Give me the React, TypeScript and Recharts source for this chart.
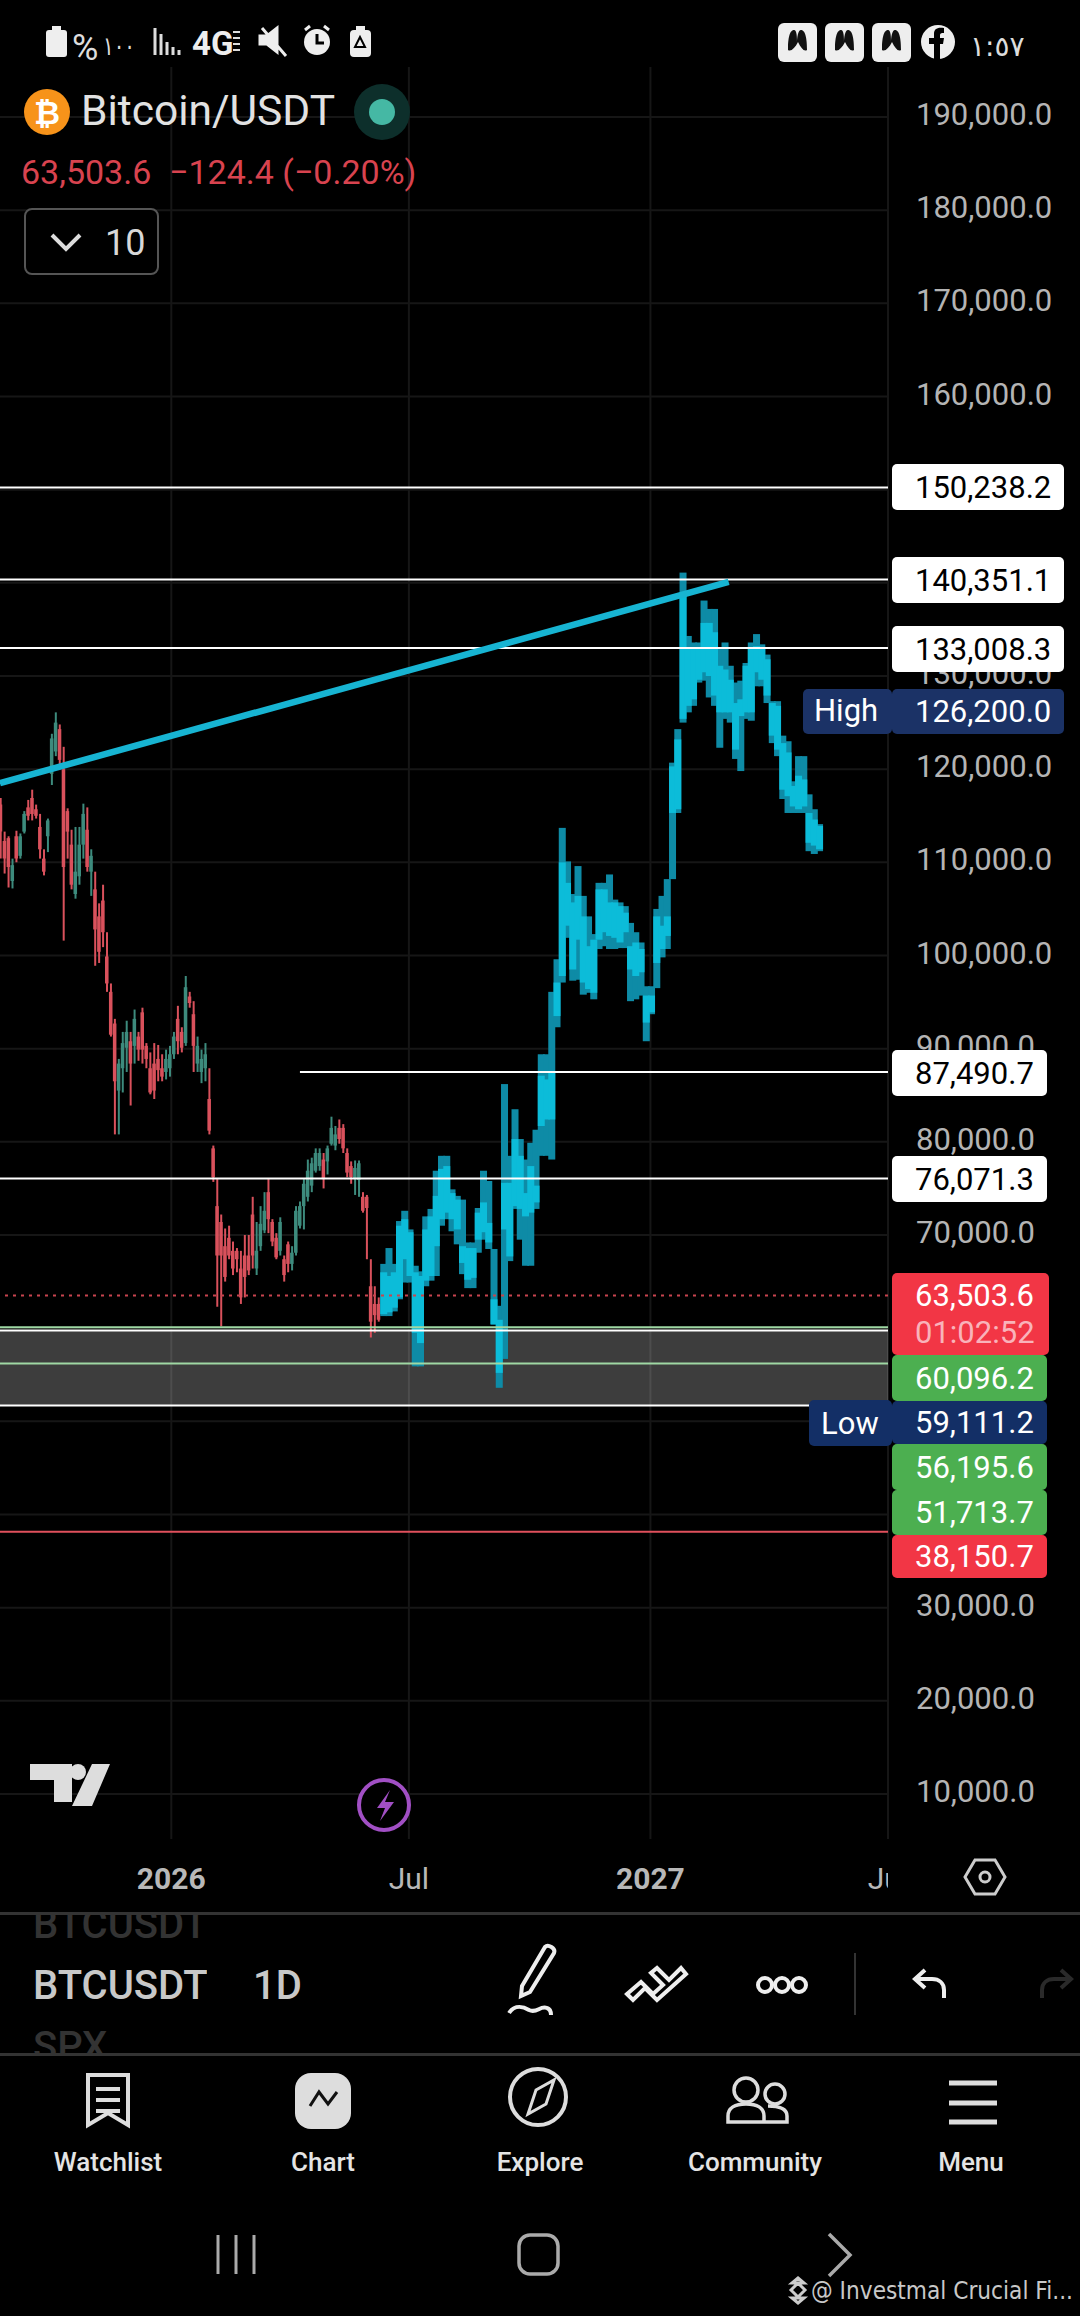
import { Bar, CartesianGrid, Cell, ComposedChart, ReferenceArea, ReferenceLine, XAxis, YAxis } from "recharts";

// candles, one slot every 3 days starting 130 days before 2026
const candleHighs = [116900, 113300, 112800, 110400, 113400, 113100, 115500, 116700, 117800, 116200, 115200, 111400, 114700, 123800, 126100, 124800, 122400, 115800, 113500, 113800, 113800, 116300, 115900, 111400, 109000, 105600, 107600, 102500, 97000, 93200, 88900, 91800, 93000, 91800, 94200, 91800, 94400, 90600, 89600, 90600, 90400, 89400, 89900, 90300, 91800, 94600, 92300, 97800, 96100, 95100, 91300, 89900, 90600, 87900, 79600, 76000, 72200, 70700, 71000, 69300, 68600, 68300, 70000, 70000, 74100, 71400, 73100, 74600, 76000, 71700, 70200, 71900, 67800, 69300, 68800, 73100, 73600, 76000, 78100, 78300, 79300, 79300, 78800, 79600, 82700, 81700, 82400, 81900, 79300, 77900, 78000, 78000, 74600, 74300, 67400, 64500, 63300];
const candleLows = [110400, 108800, 107300, 107200, 110000, 110400, 113100, 114500, 114500, 114700, 110400, 108600, 111100, 118300, 121400, 120000, 101600, 110400, 107100, 106100, 107600, 110400, 109000, 106400, 98900, 99200, 100900, 96100, 91300, 80800, 80800, 85300, 87500, 83900, 88400, 88700, 88400, 87900, 85100, 84600, 86500, 86500, 86700, 87000, 88900, 89400, 89600, 90300, 94400, 87500, 87500, 86300, 86500, 80800, 75700, 62300, 60200, 65000, 67400, 65700, 66000, 62600, 63300, 65700, 66400, 65700, 68300, 70200, 70200, 68800, 67400, 67800, 65000, 66000, 66200, 67800, 70700, 70600, 73600, 74600, 76700, 76900, 75000, 76500, 79600, 79100, 79800, 78800, 76200, 75500, 74300, 74100, 72400, 67400, 59000, 59500, 60700];
const candleOpens = [116200, 112300, 112600, 108000, 112800, 110700, 113300, 115900, 116900, 115700, 113800, 110400, 112800, 119500, 121900, 124300, 120000, 115500, 111900, 106600, 108500, 111900, 113500, 109000, 107100, 104200, 105900, 99900, 96100, 92700, 85500, 87900, 90100, 90800, 90300, 91300, 93900, 90300, 87900, 88400, 88900, 87900, 87500, 87900, 89400, 93200, 91800, 90600, 95600, 93700, 88400, 87500, 87900, 84600, 79300, 73100, 71400, 68800, 69700, 68300, 68300, 66400, 67800, 67800, 72200, 66400, 68800, 70500, 74600, 71400, 69700, 68300, 67400, 69000, 66900, 68100, 71000, 73100, 74100, 75300, 76900, 77400, 78100, 77900, 79800, 79600, 81500, 81500, 78800, 77400, 76000, 75900, 74100, 74100, 64500, 62600, 62600];
const candleCloses = [113300, 110400, 109500, 109700, 110400, 112800, 115200, 115000, 115200, 115000, 111400, 109000, 114500, 123300, 125000, 121000, 109500, 113300, 107600, 109000, 111900, 115200, 109500, 110700, 102800, 100400, 102500, 97000, 91500, 86500, 88400, 90600, 91800, 88400, 93200, 89900, 89900, 88900, 85300, 85500, 87700, 87000, 88900, 89400, 91300, 90800, 90100, 96600, 94900, 90300, 90300, 88900, 89400, 81200, 76200, 67800, 67800, 65500, 67800, 66400, 67400, 63300, 65500, 66200, 67800, 68300, 71200, 72600, 71700, 69300, 67600, 71400, 65700, 66900, 68100, 72600, 73100, 75500, 76900, 77700, 78800, 78800, 76000, 79300, 81500, 80800, 80300, 79300, 76700, 76200, 77200, 77700, 72600, 72900, 60700, 61400, 60900];

// painted projection, one slot every 4 days starting at day 162
const ghostHighs = [66900, 68600, 66900, 71500, 72600, 70600, 66700, 66100, 72000, 72800, 76900, 78500, 78500, 74900, 74200, 73800, 69200, 69200, 72900, 76900, 75800, 68500, 62400, 86200, 78500, 83500, 80300, 78100, 79900, 81300, 89400, 89400, 96100, 99600, 113700, 110100, 106600, 109600, 106400, 104200, 102300, 107800, 107800, 108700, 106000, 105700, 105300, 103500, 102500, 101400, 96700, 96700, 105000, 106400, 108200, 120700, 124300, 141100, 134300, 133600, 133600, 138100, 137200, 137200, 132900, 133600, 131100, 129300, 129500, 131400, 133600, 134500, 133400, 132300, 127300, 127300, 123600, 123000, 118700, 121400, 121400, 117300, 115700, 114100];
const ghostLows = [61300, 61300, 61800, 63100, 64900, 64900, 55900, 55900, 64500, 65100, 65600, 71000, 71700, 70400, 69000, 65800, 64300, 64300, 68100, 69500, 68500, 60400, 53600, 56700, 67200, 72800, 69500, 66700, 66700, 72800, 78500, 78500, 78100, 92300, 97100, 101900, 97300, 97400, 95800, 96000, 95300, 100700, 101000, 100700, 100700, 100800, 100800, 95100, 95300, 95700, 90800, 93700, 96500, 99800, 100700, 108200, 115300, 125000, 126100, 126800, 129300, 129500, 127700, 126800, 122300, 125400, 125000, 121100, 119800, 125400, 125200, 128900, 128900, 127100, 122800, 121400, 116800, 115300, 115300, 115300, 115300, 111200, 110900, 111200];
const ghostCoreHighs = [66000, 65600, 66000, 71000, 71700, 70300, 66000, 65600, 70600, 72000, 74200, 77100, 77400, 74500, 73800, 68800, 68600, 68600, 72400, 73500, 71300, 63100, 60900, 75600, 75600, 80300, 78500, 74500, 77400, 75300, 87100, 86700, 87400, 97100, 110000, 107800, 105700, 106400, 104200, 101000, 101700, 107100, 107100, 105700, 105700, 105300, 104600, 101000, 101400, 100700, 95700, 95700, 104200, 103200, 104200, 120300, 123200, 138600, 132900, 132900, 132900, 135700, 135700, 134700, 131100, 130700, 129600, 127100, 127500, 131100, 132900, 133200, 132900, 131800, 127100, 126800, 122800, 121800, 118200, 119300, 118900, 115300, 114600, 113900];
const ghostCoreLows = [61500, 61700, 62200, 63300, 67400, 65600, 59500, 58400, 65100, 65600, 68800, 71700, 72400, 71700, 70600, 67000, 65200, 65400, 69500, 70300, 69200, 60400, 55200, 70600, 67700, 73100, 72800, 72000, 72400, 73500, 81700, 82400, 82400, 93500, 97800, 103200, 98500, 101700, 97100, 96400, 96000, 101700, 102500, 102100, 101900, 101400, 102500, 98500, 97800, 98200, 92800, 93900, 99200, 100700, 102100, 115300, 115700, 125400, 126800, 127500, 129600, 130400, 130000, 127900, 126100, 126100, 126100, 122100, 125700, 126100, 126100, 130400, 129600, 127900, 123600, 122100, 117800, 117100, 116000, 115700, 116000, 112100, 111800, 111400];

const gridPrices = [10000, 20000, 30000, 40000, 50000, 60000, 70000, 80000, 90000, 100000, 110000, 120000, 130000, 140000, 150000, 160000, 170000, 180000, 190000];
// 40k, 50k and 60k sit fully behind the price tags
const priceTicks = [10000, 20000, 30000, 70000, 80000, 90000, 100000, 110000, 120000, 130000, 140000, 150000, 160000, 170000, 180000, 190000];
const timeTicks = [0, 181, 365, 546];
const timeLabels: Record<number, string> = { 0: "2026", 181: "Jul", 365: "2027", 546: "Jul" };

const whiteLevels = [150238.2, 140351.1, 133008.3, 76071.3, 59750, 51713.7];
const shortLevel = 87490.7;
const greenLevels = [60096.2, 56195.6];
const redLevel = 38150.7;
const lastPrice = 63503.6;

const FIRST_DAY = -130.5;
const LAST_DAY = 546;

const candleRows = candleHighs.map((high, i) => ({
  day: -130 + 3 * i,
  wick: [candleLows[i], high],
  body: [Math.min(candleOpens[i], candleCloses[i]), Math.max(candleOpens[i], candleCloses[i])],
  up: candleCloses[i] >= candleOpens[i],
}));
const ghostRows = ghostHighs.map((high, i) => ({
  day: 162 + 4 * i,
  ghost: [ghostLows[i], high],
  core: [ghostCoreLows[i], ghostCoreHighs[i]],
}));
const rows: any[] = [...candleRows, ...ghostRows];

const font = "Roboto, sans-serif";

function TimeTick({ x, y, payload }: any) {
  const bold = payload.value === 0 || payload.value === 365;
  return (
    <text x={x} y={y + 42} textAnchor="middle" fill="#b8b8b8" fontSize={30} fontFamily={font} fontWeight={bold ? 700 : 400} clipPath="url(#axisClip)">
      {timeLabels[payload.value]}
    </text>
  );
}

function PriceTick({ x, y, payload }: any) {
  return (
    <text x={x} y={y + 8} fill="#b4b4b4" fontSize={31} fontFamily={font}>
      {payload.value.toLocaleString("en-US", { minimumFractionDigits: 1 })}
    </text>
  );
}

// brush blocks are wider than the slot, keep them centred on it
function WideBlock({ x, y, width, height, fill }: any) {
  if (!Number.isFinite(y) || !Number.isFinite(height)) return null;
  return <rect x={x + width / 2 - 3.5} y={y} width={7} height={height} fill={fill} />;
}

function Tag({ x = 892, y, w = 155, h = 46, fill, color = "#fff", text }: any) {
  return (
    <g>
      <rect x={x} y={y} width={w} height={h} rx={5} fill={fill} />
      <text x={915} y={y + h / 2 + 10.5} fill={color} fontSize={31} fontFamily={font}>{text}</text>
    </g>
  );
}

function Overlay() {
  return (
    <svg width={1080} height={2316} style={{ position: "absolute", left: 0, top: 0 }}>
      {/* status bar */}
      <rect x={46} y={30} width={21} height={27} rx={3} fill="#eee" />
      <rect x={52} y={26} width={9} height={5} fill="#eee" />
      <text x={72} y={60} fill="#ddd" fontSize={36} fontFamily={font}>%</text>
      <text x={103} y={55} fill="#ddd" fontSize={26} fontFamily="DejaVu Sans" textLength={32} lengthAdjust="spacingAndGlyphs">١٠٠</text>
      <path d="M155 55V28M161 55V34M167 55V42M173 55V47M179 55V50" stroke="#ddd" strokeWidth={3} />
      <text x={192} y={55} fill="#eee" fontSize={33} fontWeight={700} fontFamily={font}>4G</text>
      <path d="M233 32h7M233 38h7M233 44h7M233 50h7" stroke="#ddd" strokeWidth={2} />
      <path d="M260 36h7l10-8v24l-10-8h-7zM262 28l24 28" stroke="#eee" strokeWidth={3} fill="#eee" />
      <circle cx={317} cy={42} r={13} fill="#eee" />
      <path d="M317 34v9h7" stroke="#000" strokeWidth={3} fill="none" />
      <path d="M305 30l5-4M329 30l-5-4" stroke="#eee" strokeWidth={3} />
      <rect x={350} y={30} width={21} height={27} rx={4} fill="#eee" />
      <rect x={356} y={26} width={9} height={5} fill="#eee" />
      <path d="M360 37l-5 10h10z" stroke="#000" strokeWidth={2} fill="none" />
      {[778, 825, 872].map((x) => (
        <g key={x}>
          <rect x={x} y={23} width={39} height={39} rx={6} fill="#eee" />
          <path d={`M${x + 10} 50c0-16 3-20 6-20s3 8 3 12c0-4 1-12 4-12s6 4 6 20c-3 2-6-2-9-8-3 6-7 10-10 8z`} fill="#111" />
        </g>
      ))}
      <circle cx={938} cy={42} r={17} fill="#eee" />
      <path d="M934 59V44h-5v-6h5v-4c0-5 3-7 10-6v5c-3 0-4 0-4 3v2h4l-1 6h-3v15z" fill="#000" />
      <text x={970} y={56} fill="#ddd" fontSize={28} fontFamily="DejaVu Sans">١:٥٧</text>

      {/* symbol header */}
      <circle cx={47} cy={112} r={23} fill="#f7931a" />
      <text x={47} y={124} textAnchor="middle" fill="#fff" fontSize={32} fontWeight={700} fontFamily={font}>₿</text>
      <text x={81} y={125} fill="#e2e2e2" fontSize={42.5} fontFamily={font}>Bitcoin/USDT</text>
      <circle cx={382} cy={112} r={28} fill="#0d2f2b" />
      <circle cx={382} cy={112} r={13} fill="#45b8a4" />
      <text x={21} y={184} fill="#d8434f" fontSize={34} fontFamily={font}>63,503.6</text>
      <text x={169} y={184} fill="#d8434f" fontSize={34} fontFamily={font}>−124.4 (−0.20%)</text>
      <rect x={25} y={209} width={133} height={65} rx={7} fill="#000" stroke="#555" strokeWidth={2} />
      <path d="M52 235l14 14 14-14" stroke="#ddd" strokeWidth={4} fill="none" />
      <text x={105} y={255} fill="#d8d8d8" fontSize={36} fontFamily={font}>10</text>

      {/* watermark and marker */}
      <path d="M30 1764h42v38H54v-22H30zM92 1764h18l-18 42H72z" fill="#ddd" />
      <circle cx={78} cy={1772} r={8} fill="#ddd" />
      <circle cx={384} cy={1805} r={25} fill="#000" stroke="#a14fc4" strokeWidth={4} />
      <path d="M390 1790l-13 18h8l-5 13 14-19h-9z" fill="#a14fc4" />

      {/* price tags */}
      <Tag y={464} w={172} fill="#fff" color="#000" text="150,238.2" />
      <Tag y={557} w={172} fill="#fff" color="#000" text="140,351.1" />
      <Tag y={626} w={172} fill="#fff" color="#000" text="133,008.3" />
      <rect x={803} y={689} width={89} height={45} rx={5} fill="#1b3266" />
      <text x={814} y={721} fill="#fff" fontSize={31} fontFamily={font}>High</text>
      <Tag y={689} w={172} h={45} fill="#1b3266" text="126,200.0" />
      <Tag y={1050} fill="#fff" color="#000" text="87,490.7" />
      <Tag y={1156} fill="#fff" color="#000" text="76,071.3" />
      <rect x={892} y={1273} width={157} height={82} rx={5} fill="#f23645" />
      <text x={915} y={1306} fill="#fff" fontSize={31} fontFamily={font}>63,503.6</text>
      <text x={915} y={1343} fill="#f9b3ba" fontSize={31} fontFamily={font}>01:02:52</text>
      <Tag y={1355} h={46} fill="#4caf50" text="60,096.2" />
      <rect x={809} y={1400} width={83} height={46} rx={5} fill="#132f66" />
      <text x={821} y={1434} fill="#fff" fontSize={31} fontFamily={font}>Low</text>
      <Tag y={1401} h={43} fill="#132f66" text="59,111.2" />
      <Tag y={1444} h={46} fill="#4caf50" text="56,195.6" />
      <Tag y={1490} h={45} fill="#4caf50" text="51,713.7" />
      <Tag y={1535} h={43} fill="#f23645" text="38,150.7" />

      {/* time axis settings */}
      <path d="M975 1860h20l10 17-10 17h-20l-10-17z" fill="none" stroke="#ccc" strokeWidth={3} />
      <circle cx={985} cy={1877} r={5} fill="none" stroke="#ccc" strokeWidth={3} />

      {/* symbol toolbar */}
      <rect x={0} y={1912} width={1080} height={3} fill="#333" />
      <rect x={0} y={2053} width={1080} height={3} fill="#333" />
      <clipPath id="symbolRow"><rect x={0} y={1915} width={207} height={138} /></clipPath>
      <g clipPath="url(#symbolRow)" fontFamily={font} fontWeight={500} fontSize={40}>
        <text x={33} y={1938} fill="#333">BTCUSDT</text>
        <text x={33} y={1999} fill="#c8c8c8">BTCUSDT</text>
        <text x={33} y={2060} fill="#333">SPX</text>
      </g>
      <text x={253} y={1999} fill="#c8c8c8" fontSize={40} fontWeight={500} fontFamily={font}>1D</text>
      <path d="M522 1986l23-39c3-3 11 1 9 6l-24 39-9 4zM509 2013c6-9 15-6 20-3 8 4 11-5 18-2 3 1 4 4 4 7" fill="none" stroke="#eee" strokeWidth={4} />
      <path d="M627 1994l14-12 12 12 10-9-12-12 6-5 12 12 12-12 5 6-29 26-12-12-12 12z" fill="none" stroke="#eee" strokeWidth={4} />
      <circle cx={765} cy={1985} r={7} fill="none" stroke="#eee" strokeWidth={4} />
      <circle cx={782} cy={1985} r={7} fill="none" stroke="#eee" strokeWidth={4} />
      <circle cx={799} cy={1985} r={7} fill="none" stroke="#eee" strokeWidth={4} />
      <rect x={854} y={1953} width={2} height={62} fill="#333" />
      <path d="M944 1998v-8c0-7-5-11-12-11h-17M925 1970l-10 9 10 9" fill="none" stroke="#eee" strokeWidth={4} />
      <path d="M1042 1998v-8c0-7 5-11 12-11h17M1061 1970l10 9-10 9" fill="none" stroke="#2a2a2a" strokeWidth={4} />

      {/* bottom navigation */}
      <path d="M88 2075h40v50l-20-12-20 12zM96 2089h24M96 2100h24M96 2111h24" fill="none" stroke="#ddd" strokeWidth={4} />
      <rect x={295} y={2073} width={56} height={56} rx={16} fill="#ddd" />
      <path d="M308 2108l9-14 9 12 9-12" fill="none" stroke="#111" strokeWidth={3} transform="translate(2 -2)" />
      <circle cx={538} cy={2097} r={28} fill="none" stroke="#ddd" strokeWidth={4} />
      <path d="M554 2080l-8 24-18 10 8-24z" fill="none" stroke="#ddd" strokeWidth={3} />
      <circle cx={746} cy={2090} r={12} fill="none" stroke="#ddd" strokeWidth={3.5} />
      <circle cx={775} cy={2094} r={10} fill="none" stroke="#ddd" strokeWidth={3.5} />
      <path d="M728 2122v-6c0-8 7-12 18-12s18 4 18 12v6zM768 2106c12 0 19 3 19 10v6h-22" fill="none" stroke="#ddd" strokeWidth={3.5} />
      <path d="M949 2083h48M949 2103h48M949 2122h48" stroke="#ddd" strokeWidth={5} />
      {[["Watchlist", 108], ["Chart", 323], ["Explore", 540], ["Community", 755], ["Menu", 971]].map(([label, x]) => (
        <text key={label} x={x} y={2171} textAnchor="middle" fill="#e4e4e4" fontSize={26} fontWeight={500} fontFamily={font}>{label}</text>
      ))}

      {/* android buttons */}
      <path d="M218 2235v39M236 2235v39M254 2235v39" stroke="#aaa" strokeWidth={3} />
      <rect x={519} y={2235} width={39} height={39} rx={11} fill="none" stroke="#aaa" strokeWidth={3.5} />
      <path d="M829 2234l21 21-21 21" fill="none" stroke="#aaa" strokeWidth={3.5} />
      <path d="M791 2290l7-7 7 7-7 7zM798 2278l6 5-6 0-6 0zM798 2303l6-5h-12z" fill="none" stroke="#ccc" strokeWidth={3} />
      <text x={811} y={2299} fill="#c8c8c8" fontSize={25} fontFamily="DejaVu Sans" textLength={262} lengthAdjust="spacingAndGlyphs">@ Investmal Crucial Fi...</text>
    </svg>
  );
}

export default function App() {
  return (
    <div style={{ position: "absolute", left: 0, top: 0, width: 1080, height: 2316, background: "#000", overflow: "hidden" }}>
      <ComposedChart width={1080} height={2316} data={rows} margin={{ top: 67, right: 0, bottom: 421, left: 0 }}>
        <defs>
          <clipPath id="axisClip">
            <rect x={0} y={1839} width={888} height={80} />
          </clipPath>
        </defs>
        <CartesianGrid stroke="#161616" strokeWidth={2} horizontalValues={gridPrices} verticalValues={timeTicks} />
        <XAxis dataKey="day" type="number" scale="linear" domain={[FIRST_DAY, LAST_DAY]} ticks={timeTicks} interval={0} height={56} axisLine={false} tickLine={false} tick={<TimeTick />} />
        <XAxis xAxisId="body" dataKey="day" type="number" scale="linear" domain={[FIRST_DAY, LAST_DAY]} hide />
        <XAxis xAxisId="ghost" dataKey="day" type="number" scale="linear" domain={[FIRST_DAY, LAST_DAY]} hide />
        <XAxis xAxisId="core" dataKey="day" type="number" scale="linear" domain={[FIRST_DAY, LAST_DAY]} hide />
        <YAxis orientation="right" width={192} domain={[5170, 195370]} allowDataOverflow ticks={priceTicks} interval={0} axisLine={false} tickLine={false} tickSize={0} tickMargin={28} tick={<PriceTick />} />
        <Bar dataKey="wick" barSize={2} isAnimationActive={false}>
          {rows.map((row) => <Cell key={row.day} fill={row.up ? "#3d8b7d" : "#d9515c"} />)}
        </Bar>
        <Bar xAxisId="body" dataKey="body" barSize={4} isAnimationActive={false}>
          {rows.map((row) => <Cell key={row.day} fill={row.up ? "#3d8b7d" : "#d9515c"} />)}
        </Bar>
        <Bar xAxisId="ghost" dataKey="ghost" barSize={7} fill="#0e8ba6" shape={<WideBlock />} isAnimationActive={false} />
        <Bar xAxisId="core" dataKey="core" barSize={7} fill="#0cbcd9" shape={<WideBlock />} isAnimationActive={false} />
        <ReferenceArea y1={51713.7} y2={59750} fill="#fff" fillOpacity={0.24} stroke="none" />
        {whiteLevels.map((level) => (
          <ReferenceLine key={level} y={level} stroke="#fff" strokeWidth={2} />
        ))}
        <ReferenceLine segment={[{ x: 98, y: shortLevel }, { x: LAST_DAY, y: shortLevel }]} stroke="#fff" strokeWidth={2} />
        {greenLevels.map((level) => (
          <ReferenceLine key={level} y={level} stroke="#9fd8a4" strokeWidth={2} />
        ))}
        <ReferenceLine y={redLevel} stroke="#e0505c" strokeWidth={2} />
        <ReferenceLine y={lastPrice} stroke="#c8444f" strokeWidth={2} strokeDasharray="3 5" />
        <ReferenceLine segment={[{ x: FIRST_DAY, y: 118500 }, { x: 424.6, y: 140100 }]} stroke="#17b4d2" strokeWidth={6.5} />
      </ComposedChart>
      <Overlay />
    </div>
  );
}
